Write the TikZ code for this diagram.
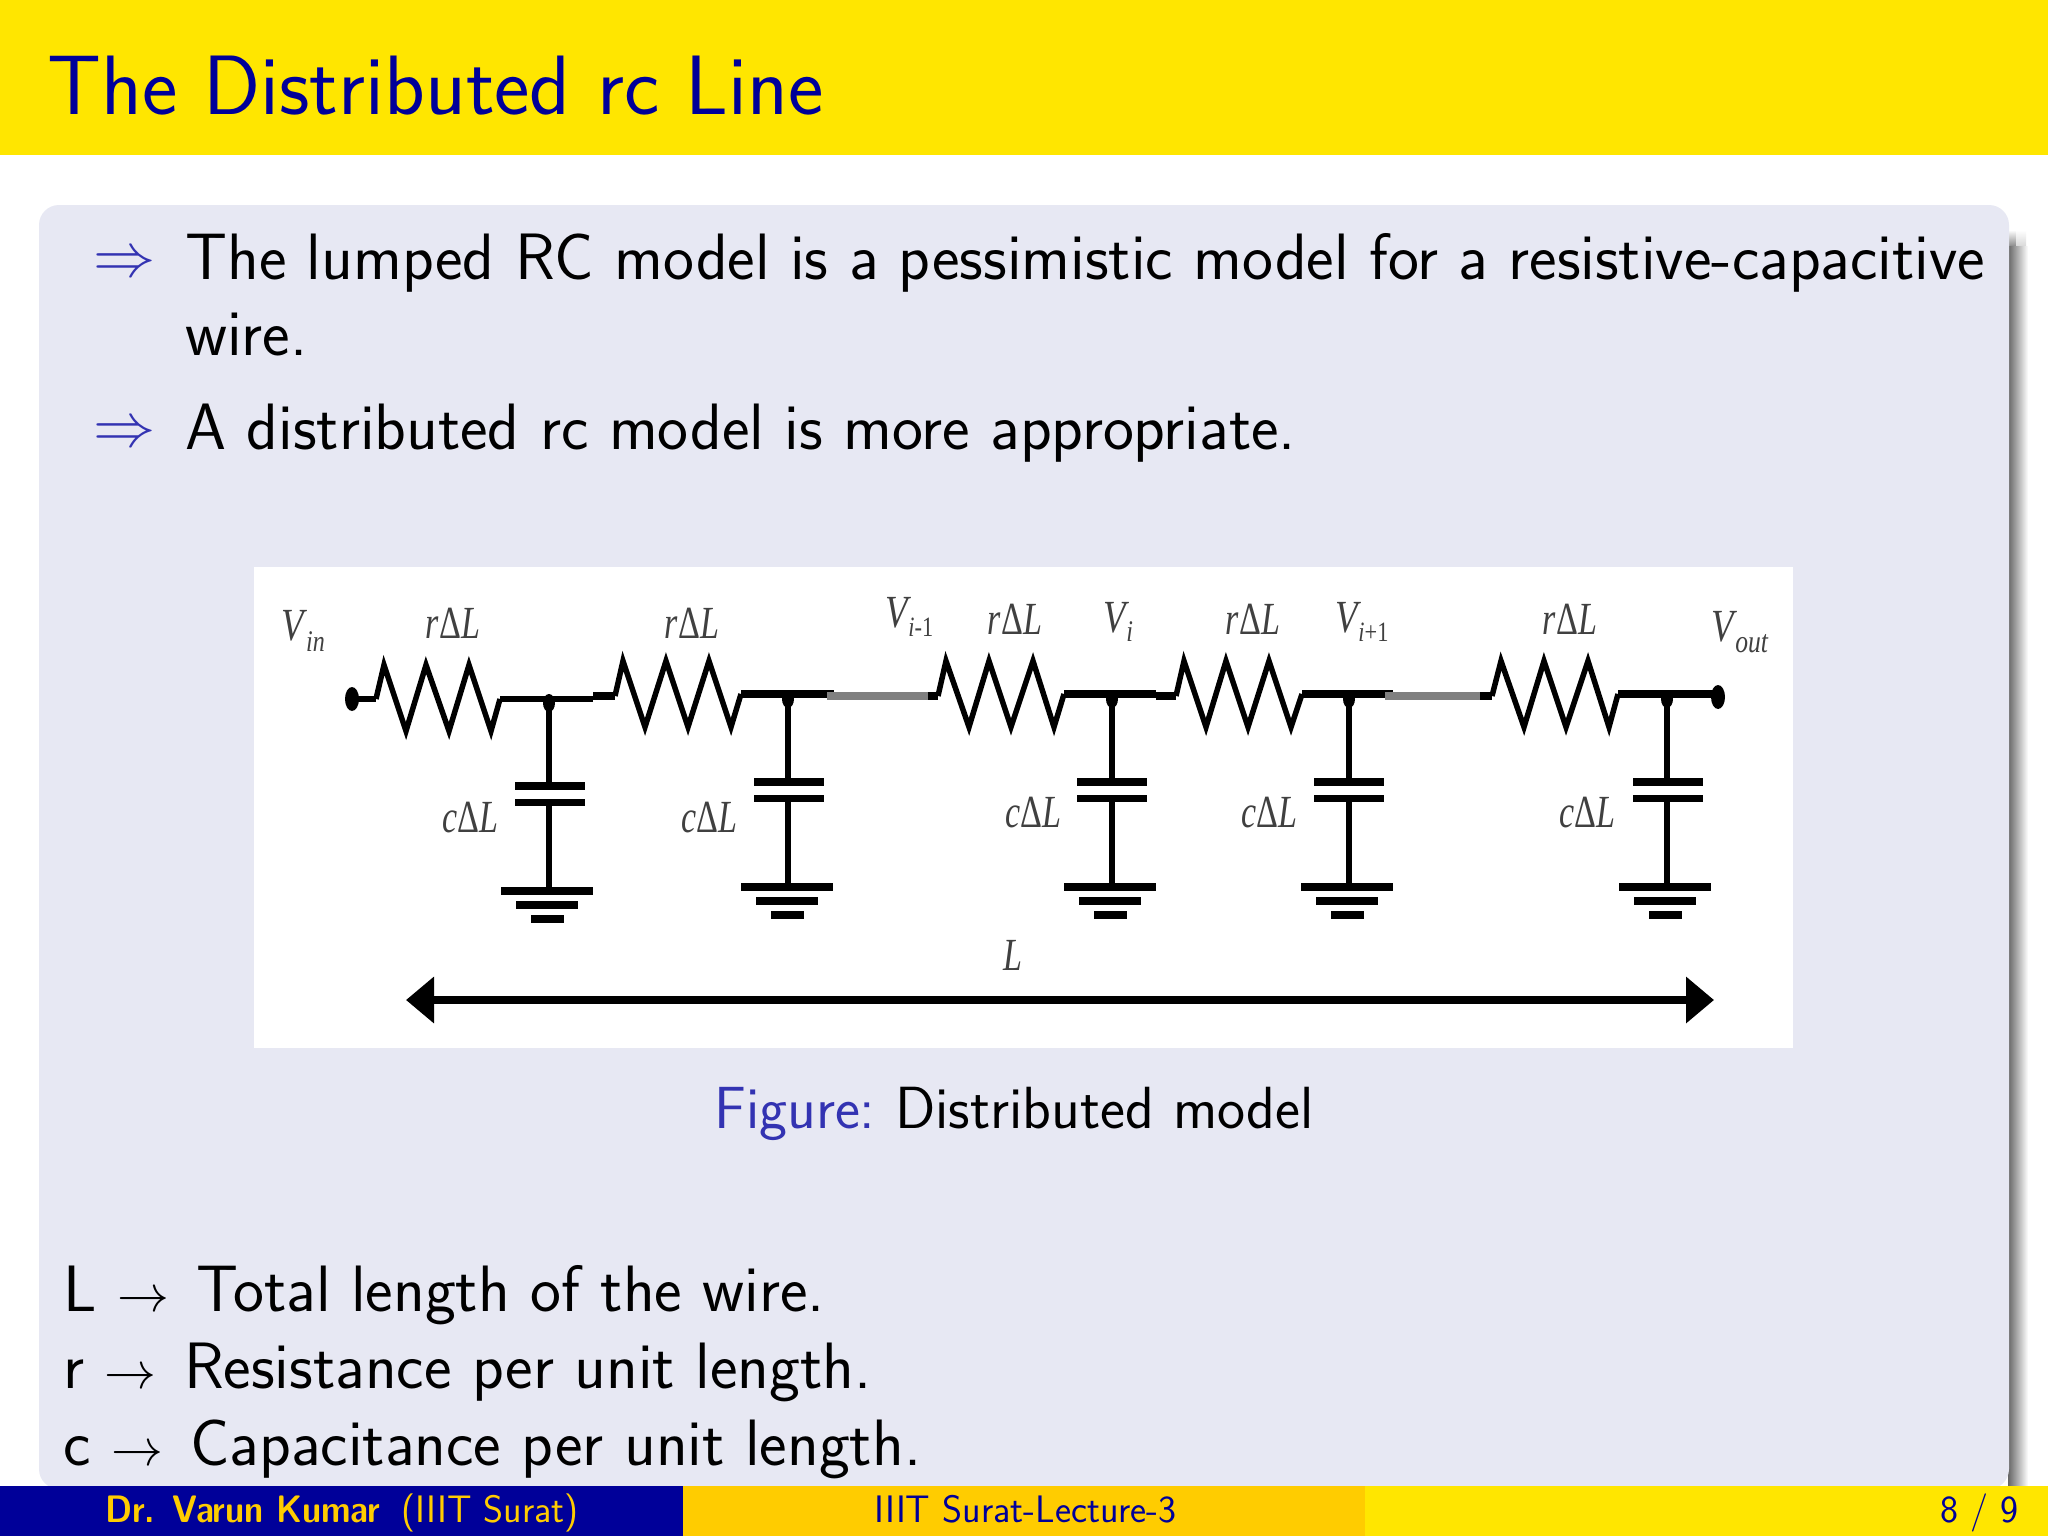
\documentclass[tikz,border=0pt]{standalone}
\usepackage{amsmath,amssymb}
\usepackage{fontspec}
\usetikzlibrary{positioning,arrows.meta,shapes.geometric}
\newfontfamily\figfont{Liberation Serif}
\definecolor{navy}{HTML}{000099}
\definecolor{barblue}{HTML}{3333B2}
\definecolor{baryellow}{HTML}{FFE600}
\definecolor{bargold}{HTML}{FFCC00}
\definecolor{blockbg}{HTML}{E7E8F3}
% condensed figure lettering
\newcommand{\figtext}[2]{\scalebox{.74}[1]{\fontsize{46}{46}\figfont\itshape #1\textup{Δ}#2}}
\newcommand{\figsub}[4]{\scalebox{.8}[1]{\fontsize{46}{46}\figfont\itshape V\kern#1pt\raisebox{#2pt}{\fontsize{#3}{#3}\selectfont #4}}}
\newcommand{\bigarrow}[2]{\scalebox{#1}{\fontsize{20}{20}\selectfont$#2$}}
\tikzset{
  slidetext/.style={anchor=base west,inner sep=0pt,font=\fontsize{65.6}{65.6}\sffamily},
  captext/.style={anchor=base west,inner sep=0pt,font=\fontsize{59.5}{59.5}\sffamily},
  foottext/.style={anchor=base west,inner sep=0pt,font=\fontsize{38.3}{38.3}\sffamily},
  figlabel/.style={inner sep=0pt,text=black!75},
  wirethin/.style={line width=6.5pt},
  wirethick/.style={line width=8.5pt},
  wiregray/.style={line width=8pt,draw=black!50},
  resistor/.style={line width=5.5pt,miter limit=10},
  capwire/.style={line width=6.5pt},
  plate/.style={rectangle,fill=black,inner sep=0pt,minimum width=70pt,minimum height=8.5pt},
  plateb/.style={plate,minimum height=7pt},
  gnda/.style={rectangle,fill=black,inner sep=0pt,minimum width=92pt,minimum height=8.5pt},
  gndb/.style={gnda,minimum width=62pt},
  gndc/.style={gnda,minimum width=33pt},
  junction/.style={ellipse,fill=black,inner sep=0pt,minimum width=12pt,minimum height=18pt},
  terminal/.style={ellipse,fill=black,inner sep=0pt,minimum width=14pt,minimum height=24pt}
}
\begin{document}
\begin{tikzpicture}[x=1pt,y=-1pt]
	\useasboundingbox (0,0) rectangle (2048,1536);
	\fill[white] (0,0) rectangle (2048,1536);

	%title bar
	\fill[baryellow] (0,0) rectangle (2048,155);
	\node [anchor=base west,inner sep=0pt,text=navy,font=\fontsize{84.3}{84.3}\sffamily] (title) at (47,115) {The Distributed rc Line};

	%block with its shadow
	\shade[top color=white,bottom color=black!45] (2008,230) rectangle (2016,246);
	\shade[top color=white,bottom color=black!15] (2016,230) rectangle (2026,246);
	\shade[left color=black!60,middle color=black!30,right color=white] (2008,246) rectangle (2028,1487);
	\fill[blockbg,rounded corners=20pt] (39,205) rectangle (2009,1489);

	%bullets
	\node [slidetext,text=barblue] (arrow1) at (93,276) {\bigarrow{3}{\Rightarrow}};
	\node [slidetext] (line1) at (185,279) {\makebox[1800pt][s]{The lumped RC model is a pessimistic model for a resistive-capacitive}};
	\node [slidetext] (line2) at (185,355) {wire.};
	\node [slidetext,text=barblue] (arrow2) at (93,446) {\bigarrow{3}{\Rightarrow}};
	\node [slidetext] (line3) at (185,449) {A distributed rc model is more appropriate.};

	%figure panel
	\fill[white] (254,567) rectangle (1793,1048);

	%figure labels
	\node [figlabel,anchor=west] (vin) at (281,631) {\figsub{3}{-11}{30}{in}};
	\node [figlabel] (rl1) at (453,623) {\figtext{r}{L}};
	\node [figlabel] (rl2) at (692,623) {\figtext{r}{L}};
	\node [figlabel,anchor=west] (vprev) at (885,617) {\figsub{1}{-9}{28}{i\textup{-1}}};
	\node [figlabel] (rl3) at (1015,619) {\figtext{r}{L}};
	\node [figlabel,anchor=west] (vcur) at (1103,622) {\figsub{1}{-9}{30}{i}};
	\node [figlabel] (rl4) at (1253,619) {\figtext{r}{L}};
	\node [figlabel,anchor=west] (vnext) at (1335,622) {\figsub{1}{-9}{28}{i\textup{+1}}};
	\node [figlabel] (rl5) at (1570,619) {\figtext{r}{L}};
	\node [figlabel,anchor=west] (vout) at (1711,632) {\figsub{2}{-11}{32}{out}};
	\node [figlabel] (cl1) at (470,818) {\figtext{c}{L}};
	\node [figlabel] (cl2) at (709,818) {\figtext{c}{L}};
	\node [figlabel] (cl3) at (1033,813) {\figtext{c}{L}};
	\node [figlabel] (cl4) at (1269,813) {\figtext{c}{L}};
	\node [figlabel] (cl5) at (1587,813) {\figtext{c}{L}};
	\node [figlabel] (len) at (1013,955) {\scalebox{.74}[1]{\fontsize{46}{46}\figfont\itshape L}};

	%junctions and terminals
	\node [terminal] (tin) at (352,699) {};
	\node [junction] (j1) at (549,703) {};
	\node [junction] (j2) at (788,699) {};
	\node [junction] (j3) at (1112,699) {};
	\node [junction] (j4) at (1349,699) {};
	\node [junction] (j5) at (1667,699) {};
	\node [terminal] (tout) at (1718,697) {};

	%resistor ends
	\coordinate (r1a) at (376,699);
	\coordinate (r1b) at (500,699);
	\coordinate (r2a) at (615,696);
	\coordinate (r2b) at (741,694);
	\coordinate (r3a) at (938,696);
	\coordinate (r3b) at (1064,694);
	\coordinate (r4a) at (1176,696);
	\coordinate (r4b) at (1302,694);
	\coordinate (r5a) at (1492,696);
	\coordinate (r5b) at (1618,694);

	%resistors
	\draw[resistor] (r1a) -- (384,665) -- (406,731) -- (426,665) -- (449,731) -- (469,665) -- (491,731) -- (r1b);
	\draw[resistor] (r2a) -- (623,661) -- (645,727) -- (666,661) -- (688,727) -- (709,661) -- (731,727) -- (r2b);
	\draw[resistor] (r3a) -- (946,661) -- (969,727) -- (989,661) -- (1011,727) -- (1033,661) -- (1054,727) -- (r3b);
	\draw[resistor] (r4a) -- (1184,661) -- (1206,727) -- (1226,661) -- (1248,727) -- (1269,661) -- (1291,727) -- (r4b);
	\draw[resistor] (r5a) -- (1501,661) -- (1524,727) -- (1544,661) -- (1566,727) -- (1588,661) -- (1609,727) -- (r5b);

	%line segments
	\coordinate (w1) at (593,699);
	\coordinate (w2a) at (593,696);
	\coordinate (w2b) at (834,694);
	\coordinate (w2c) at (827,696);
	\coordinate (w3a) at (928,696);
	\coordinate (w3b) at (1156,694);
	\coordinate (w4a) at (1156,696);
	\coordinate (w4b) at (1393,694);
	\coordinate (w4c) at (1385,696);
	\coordinate (w5a) at (1480,696);
	\coordinate (w5b) at (1717,694);
	\draw[wirethin] (tin.center) -- (r1a);
	\draw[wirethin] (r1b) -- (w1);
	\draw[wirethick] (w2a) -- (r2a);
	\draw[wirethick] (r2b) -- (w2b);
	\draw[wiregray] (w2c) -- (w3a);
	\draw[wirethick] (w3a) -- (r3a);
	\draw[wirethick] (r3b) -- (w3b);
	\draw[wirethick] (w4a) -- (r4a);
	\draw[wirethick] (r4b) -- (w4b);
	\draw[wiregray] (w4c) -- (w5a);
	\draw[wirethick] (w5a) -- (r5a);
	\draw[wirethick] (r5b) -- (w5b);

	%capacitors
	\node [plate] (c1a) at (550,786) {};
	\node [plateb] (c1b) at (550,802) {};
	\node [plate] (c2a) at (789,782) {};
	\node [plateb] (c2b) at (789,798) {};
	\node [plate] (c3a) at (1112,782) {};
	\node [plateb] (c3b) at (1112,798) {};
	\node [plate] (c4a) at (1349,782) {};
	\node [plateb] (c4b) at (1349,798) {};
	\node [plate] (c5a) at (1668,782) {};
	\node [plateb] (c5b) at (1668,798) {};

	%grounds
	\node [gnda] (g1a) at (547,891) {};
	\node [gndb] (g1b) at (547,905) {};
	\node [gndc] (g1c) at (547,919) {};
	\node [gnda] (g2a) at (787,887) {};
	\node [gndb] (g2b) at (787,901) {};
	\node [gndc] (g2c) at (787,915) {};
	\node [gnda] (g3a) at (1110,887) {};
	\node [gndb] (g3b) at (1110,901) {};
	\node [gndc] (g3c) at (1110,915) {};
	\node [gnda] (g4a) at (1347,887) {};
	\node [gndb] (g4b) at (1347,901) {};
	\node [gndc] (g4c) at (1347,915) {};
	\node [gnda] (g5a) at (1665,887) {};
	\node [gndb] (g5b) at (1665,901) {};
	\node [gndc] (g5c) at (1665,915) {};

	%vertical wires
	\draw[capwire] (j1.center) -- (j1.center |- c1a.center);
	\draw[capwire] (j1.center |- c1b.center) -- (j1.center |- g1a.center);
	\draw[capwire] (j2.center) -- (j2.center |- c2a.center);
	\draw[capwire] (j2.center |- c2b.center) -- (j2.center |- g2a.center);
	\draw[capwire] (j3.center) -- (j3.center |- c3a.center);
	\draw[capwire] (j3.center |- c3b.center) -- (j3.center |- g3a.center);
	\draw[capwire] (j4.center) -- (j4.center |- c4a.center);
	\draw[capwire] (j4.center |- c4b.center) -- (j4.center |- g4a.center);
	\draw[capwire] (j5.center) -- (j5.center |- c5a.center);
	\draw[capwire] (j5.center |- c5b.center) -- (j5.center |- g5a.center);

	%length arrow
	\coordinate (ll) at (406,1000);
	\coordinate (lr) at (1714,1000);
	\draw[line width=8pt,{Triangle[length=28pt,width=45pt]}-{Triangle[length=28pt,width=45pt]}] (ll) -- (lr);

	%caption
	\node [captext] (cap) at (714,1128) {\textcolor{barblue}{Figure:}\hspace{-5pt} Distributed model};

	%definitions
	\node [slidetext] (defl) at (63,1311) {L \bigarrow{2.5}{\rightarrow}\hspace{7pt} Total length of the wire.};
	\node [slidetext] (defr) at (63,1388) {r \bigarrow{2.5}{\rightarrow}\hspace{7pt} Resistance per unit length.};
	\node [slidetext] (defc) at (63,1465) {c \bigarrow{2.5}{\rightarrow}\hspace{7pt} Capacitance per unit length.};

	%footer
	\fill[navy] (0,1486) rectangle (683,1536);
	\fill[bargold] (683,1486) rectangle (1365,1536);
	\fill[baryellow] (1365,1486) rectangle (2048,1536);
	\node [foottext,text=bargold] (author) at (105,1522) {\scalebox{.89}[1]{\textbf{Dr. Varun Kumar}}\hspace{21pt}(IIIT Surat)};
	\node [foottext,text=navy] (talk) at (874,1522) {IIIT Surat-Lecture-3};
	\node [foottext,text=navy] (page) at (1940,1522) {8 / 9};
\end{tikzpicture}
\end{document}
